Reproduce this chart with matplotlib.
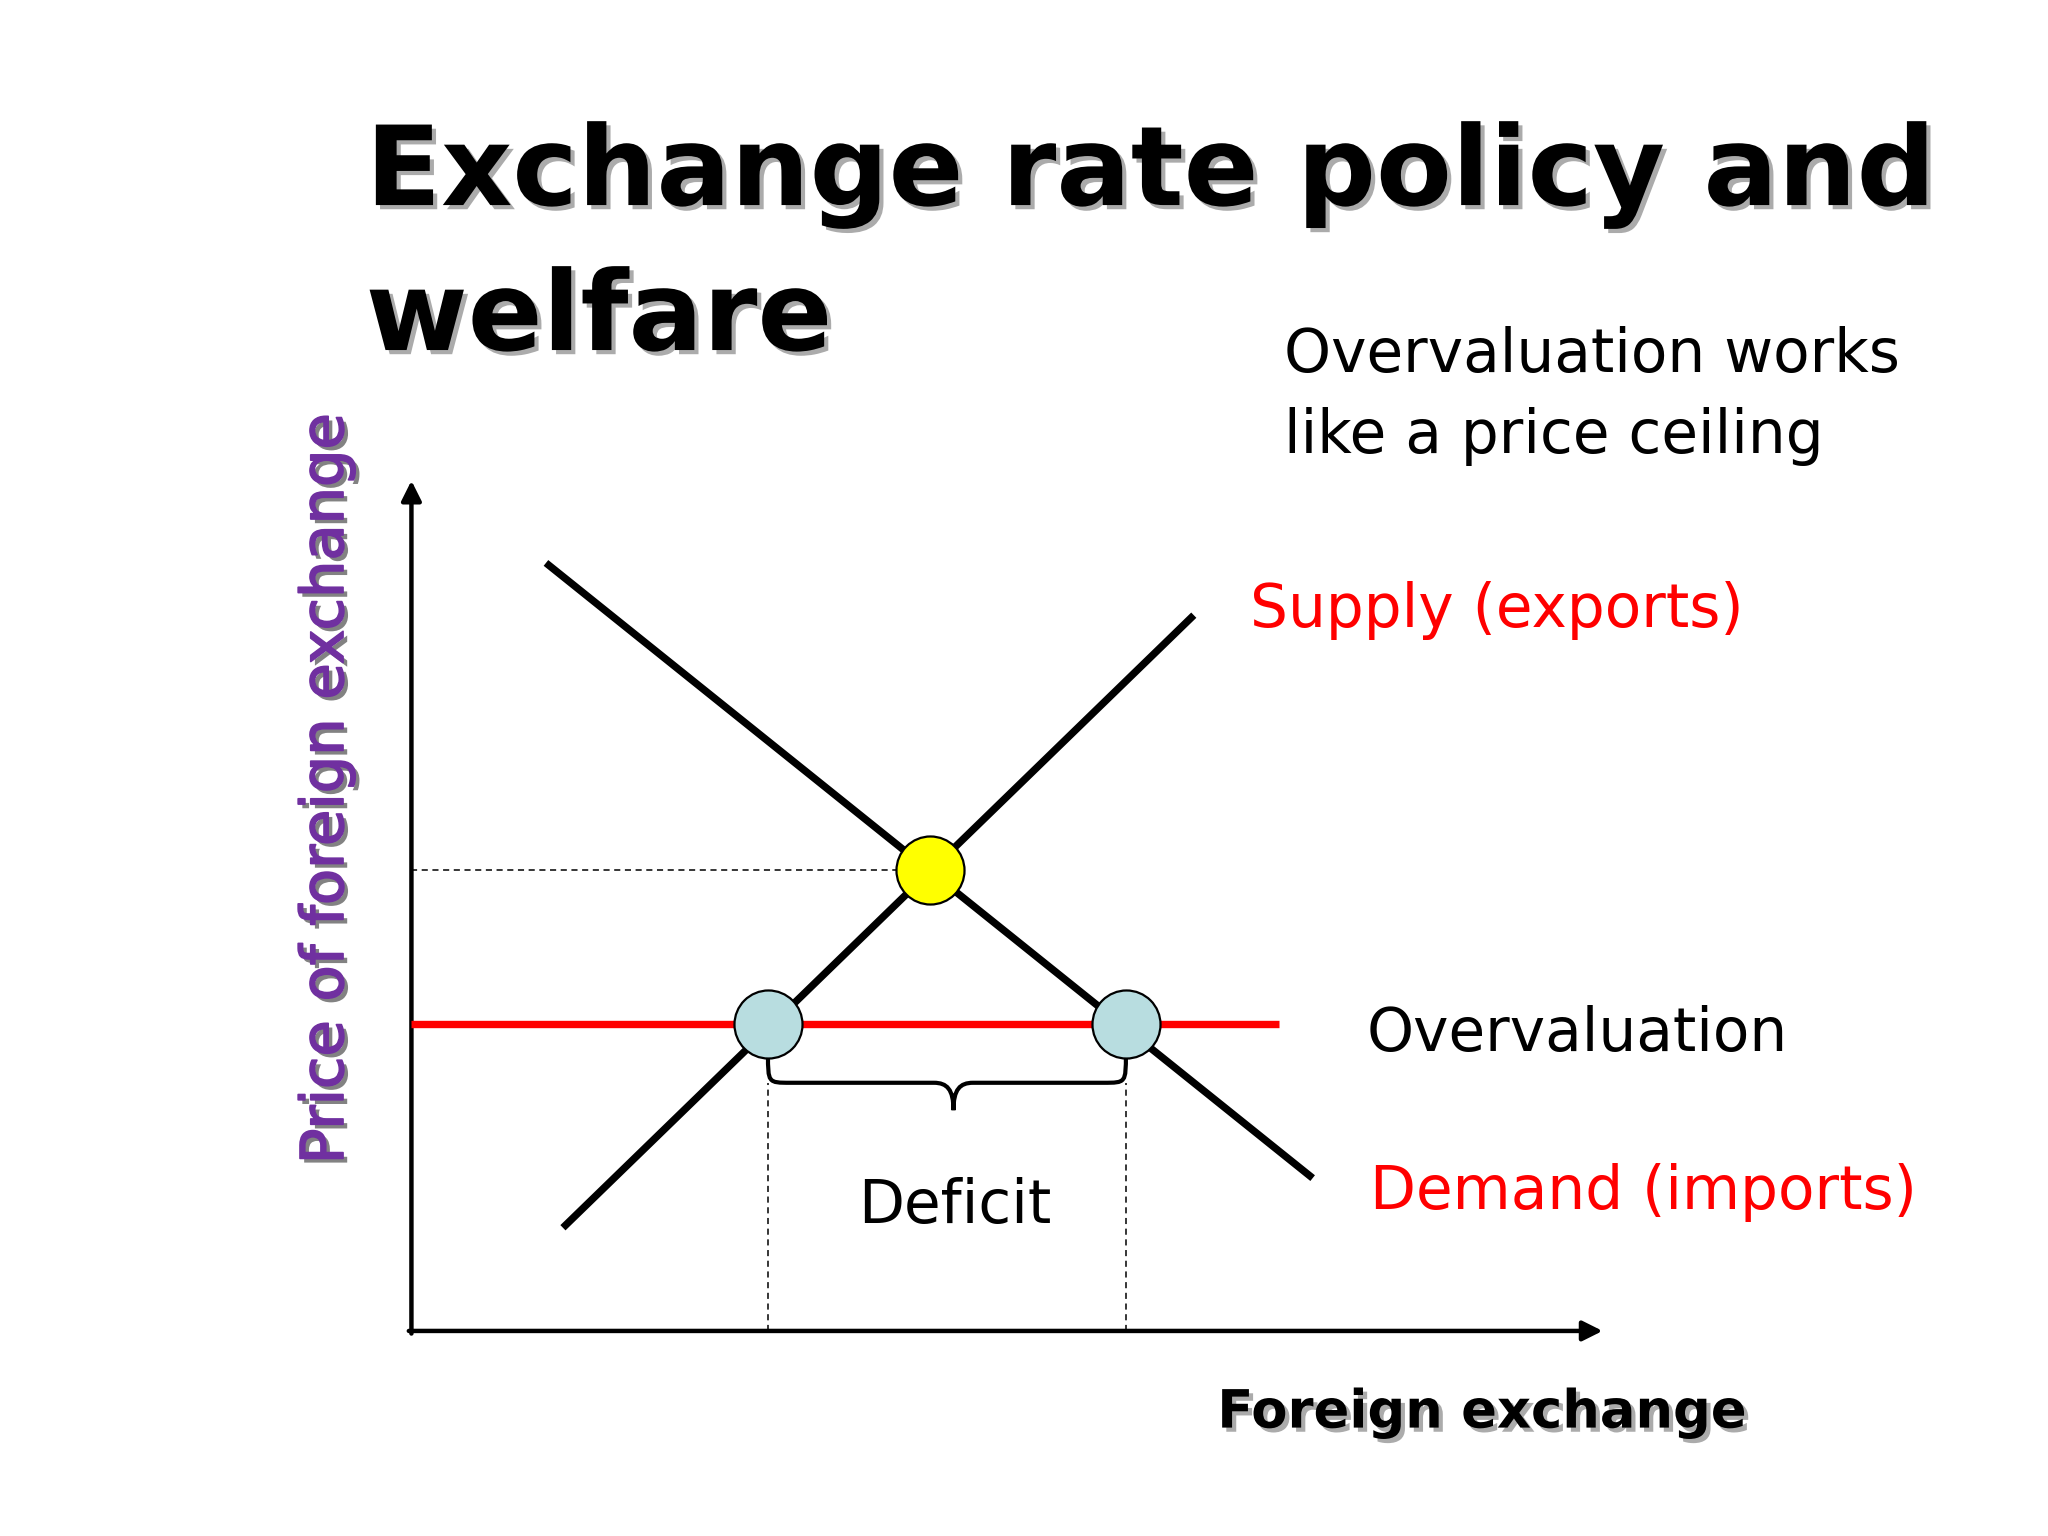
import matplotlib
matplotlib.use('Agg')
import matplotlib.pyplot as plt
import matplotlib.patheffects as pe
from matplotlib.path import Path
from matplotlib.patches import PathPatch

# 曲线端点（数量, 价格）
demand_q = [103, 690]
demand_p = [588, 117]
supply_q = [116, 599]
supply_p = [79, 548]

# 均衡点与高估汇率
eq_q, eq_p = 397, 353
ceiling_p = 235
ceiling_q = [0, 664]
short_q = [273, 547]   # 高估价位上的供给量、需求量

# 坐标轴长度
x_axis_end = 912
y_axis_end = 651

title_lines = ['Exchange rate policy and', 'welfare']
note_lines = ['Overvaluation works', 'like a price ceiling']

fig = plt.figure(figsize=(20.48, 15.36), dpi=100)
ax = fig.add_axes([0, 0, 1, 1])
ax.set_xlim(-315, 1253)
ax.set_ylim(-157, 1019)
ax.axis('off')

shadow = [pe.SimplePatchShadow(offset=(3, -3), shadow_rgbFace='0.45', alpha=0.6), pe.Normal()]

# 坐标轴（带箭头）
arrow = dict(arrowstyle='-|>,head_length=1.2,head_width=0.6', color='black', lw=3.2,
             shrinkA=0, shrinkB=0)
ax.annotate('', xy=(0, y_axis_end), xytext=(0, -2), arrowprops=arrow)
ax.annotate('', xy=(x_axis_end, 0), xytext=(-2, 0), arrowprops=arrow)

# 虚线参考线
ax.plot([0, eq_q], [eq_p, eq_p], ls=(0, (4, 3)), color='black', lw=1.1, zorder=2)
for q in short_q:
    ax.plot([q, q], [0, ceiling_p - 45], ls=(0, (4, 3)), color='black', lw=1.1, zorder=2)

# 供给、需求曲线
ax.plot(demand_q, demand_p, color='black', lw=5.3, solid_capstyle='butt', zorder=3)
ax.plot(supply_q, supply_p, color='black', lw=5.3, solid_capstyle='butt', zorder=3)

# 高估汇率线
ax.plot(ceiling_q, [ceiling_p, ceiling_p], color='#ff0000', lw=5.3, solid_capstyle='butt', zorder=3)

# 大括号
l, r = short_q
mid = (l + r) / 2 + 5
top, bar, tip = ceiling_p - 23, ceiling_p - 45, ceiling_p - 66
verts = [(l, top), (l, bar), (l, bar), (l + 17, bar),
         (mid - 15, bar),
         (mid - 5, bar), (mid, bar - 5), (mid, tip),
         (mid, bar - 5), (mid + 5, bar), (mid + 15, bar),
         (r - 17, bar),
         (r, bar), (r, bar), (r, top)]
codes = [Path.MOVETO, Path.CURVE4, Path.CURVE4, Path.CURVE4,
         Path.LINETO,
         Path.CURVE4, Path.CURVE4, Path.CURVE4,
         Path.CURVE4, Path.CURVE4, Path.CURVE4,
         Path.LINETO,
         Path.CURVE4, Path.CURVE4, Path.CURVE4]
ax.add_patch(PathPatch(Path(verts, codes), fill=False, lw=3.0, edgecolor='black',
                       capstyle='round', zorder=3))

# 圆点
ax.scatter([eq_q], [eq_p], s=2400, color='#ffff00', edgecolors='black', linewidths=1.6, zorder=5)
ax.scatter(short_q, [ceiling_p, ceiling_p], s=2400, color='#b8dde0', edgecolors='black',
           linewidths=1.6, zorder=5)

# 文字
ax.text(-35, 862, title_lines[0], fontsize=79.5, fontweight='bold', ha='left', va='baseline',
        path_effects=shadow)
ax.text(-35, 751, title_lines[1], fontsize=79.5, fontweight='bold', ha='left', va='baseline',
        path_effects=shadow)
ax.text(668, 734, note_lines[0], fontsize=43, ha='left', va='baseline')
ax.text(668, 672, note_lines[1], fontsize=43, ha='left', va='baseline')
ax.text(642, 539, 'Supply (exports)', fontsize=43, color='#ff0000', ha='left', va='baseline')
ax.text(731, 214, 'Overvaluation', fontsize=43, ha='left', va='baseline')
ax.text(734, 93, 'Demand (imports)', fontsize=43, color='#ff0000', ha='left', va='baseline')
ax.text(342, 83, 'Deficit', fontsize=43, ha='left', va='baseline')
ax.text(617, -74, 'Foreign exchange', fontsize=38, fontweight='bold', ha='left', va='baseline',
        path_effects=shadow)
ax.text(-65, 415, 'Price of foreign exchange', fontsize=42.5, color='#7030a0',
        rotation=90, ha='center', va='center',
        path_effects=[pe.SimplePatchShadow(offset=(3, -3), shadow_rgbFace='0.3', alpha=0.7),
                      pe.Stroke(linewidth=1.2, foreground='#7030a0'), pe.Normal()])

fig.savefig('out.png', dpi=100, facecolor='white')
